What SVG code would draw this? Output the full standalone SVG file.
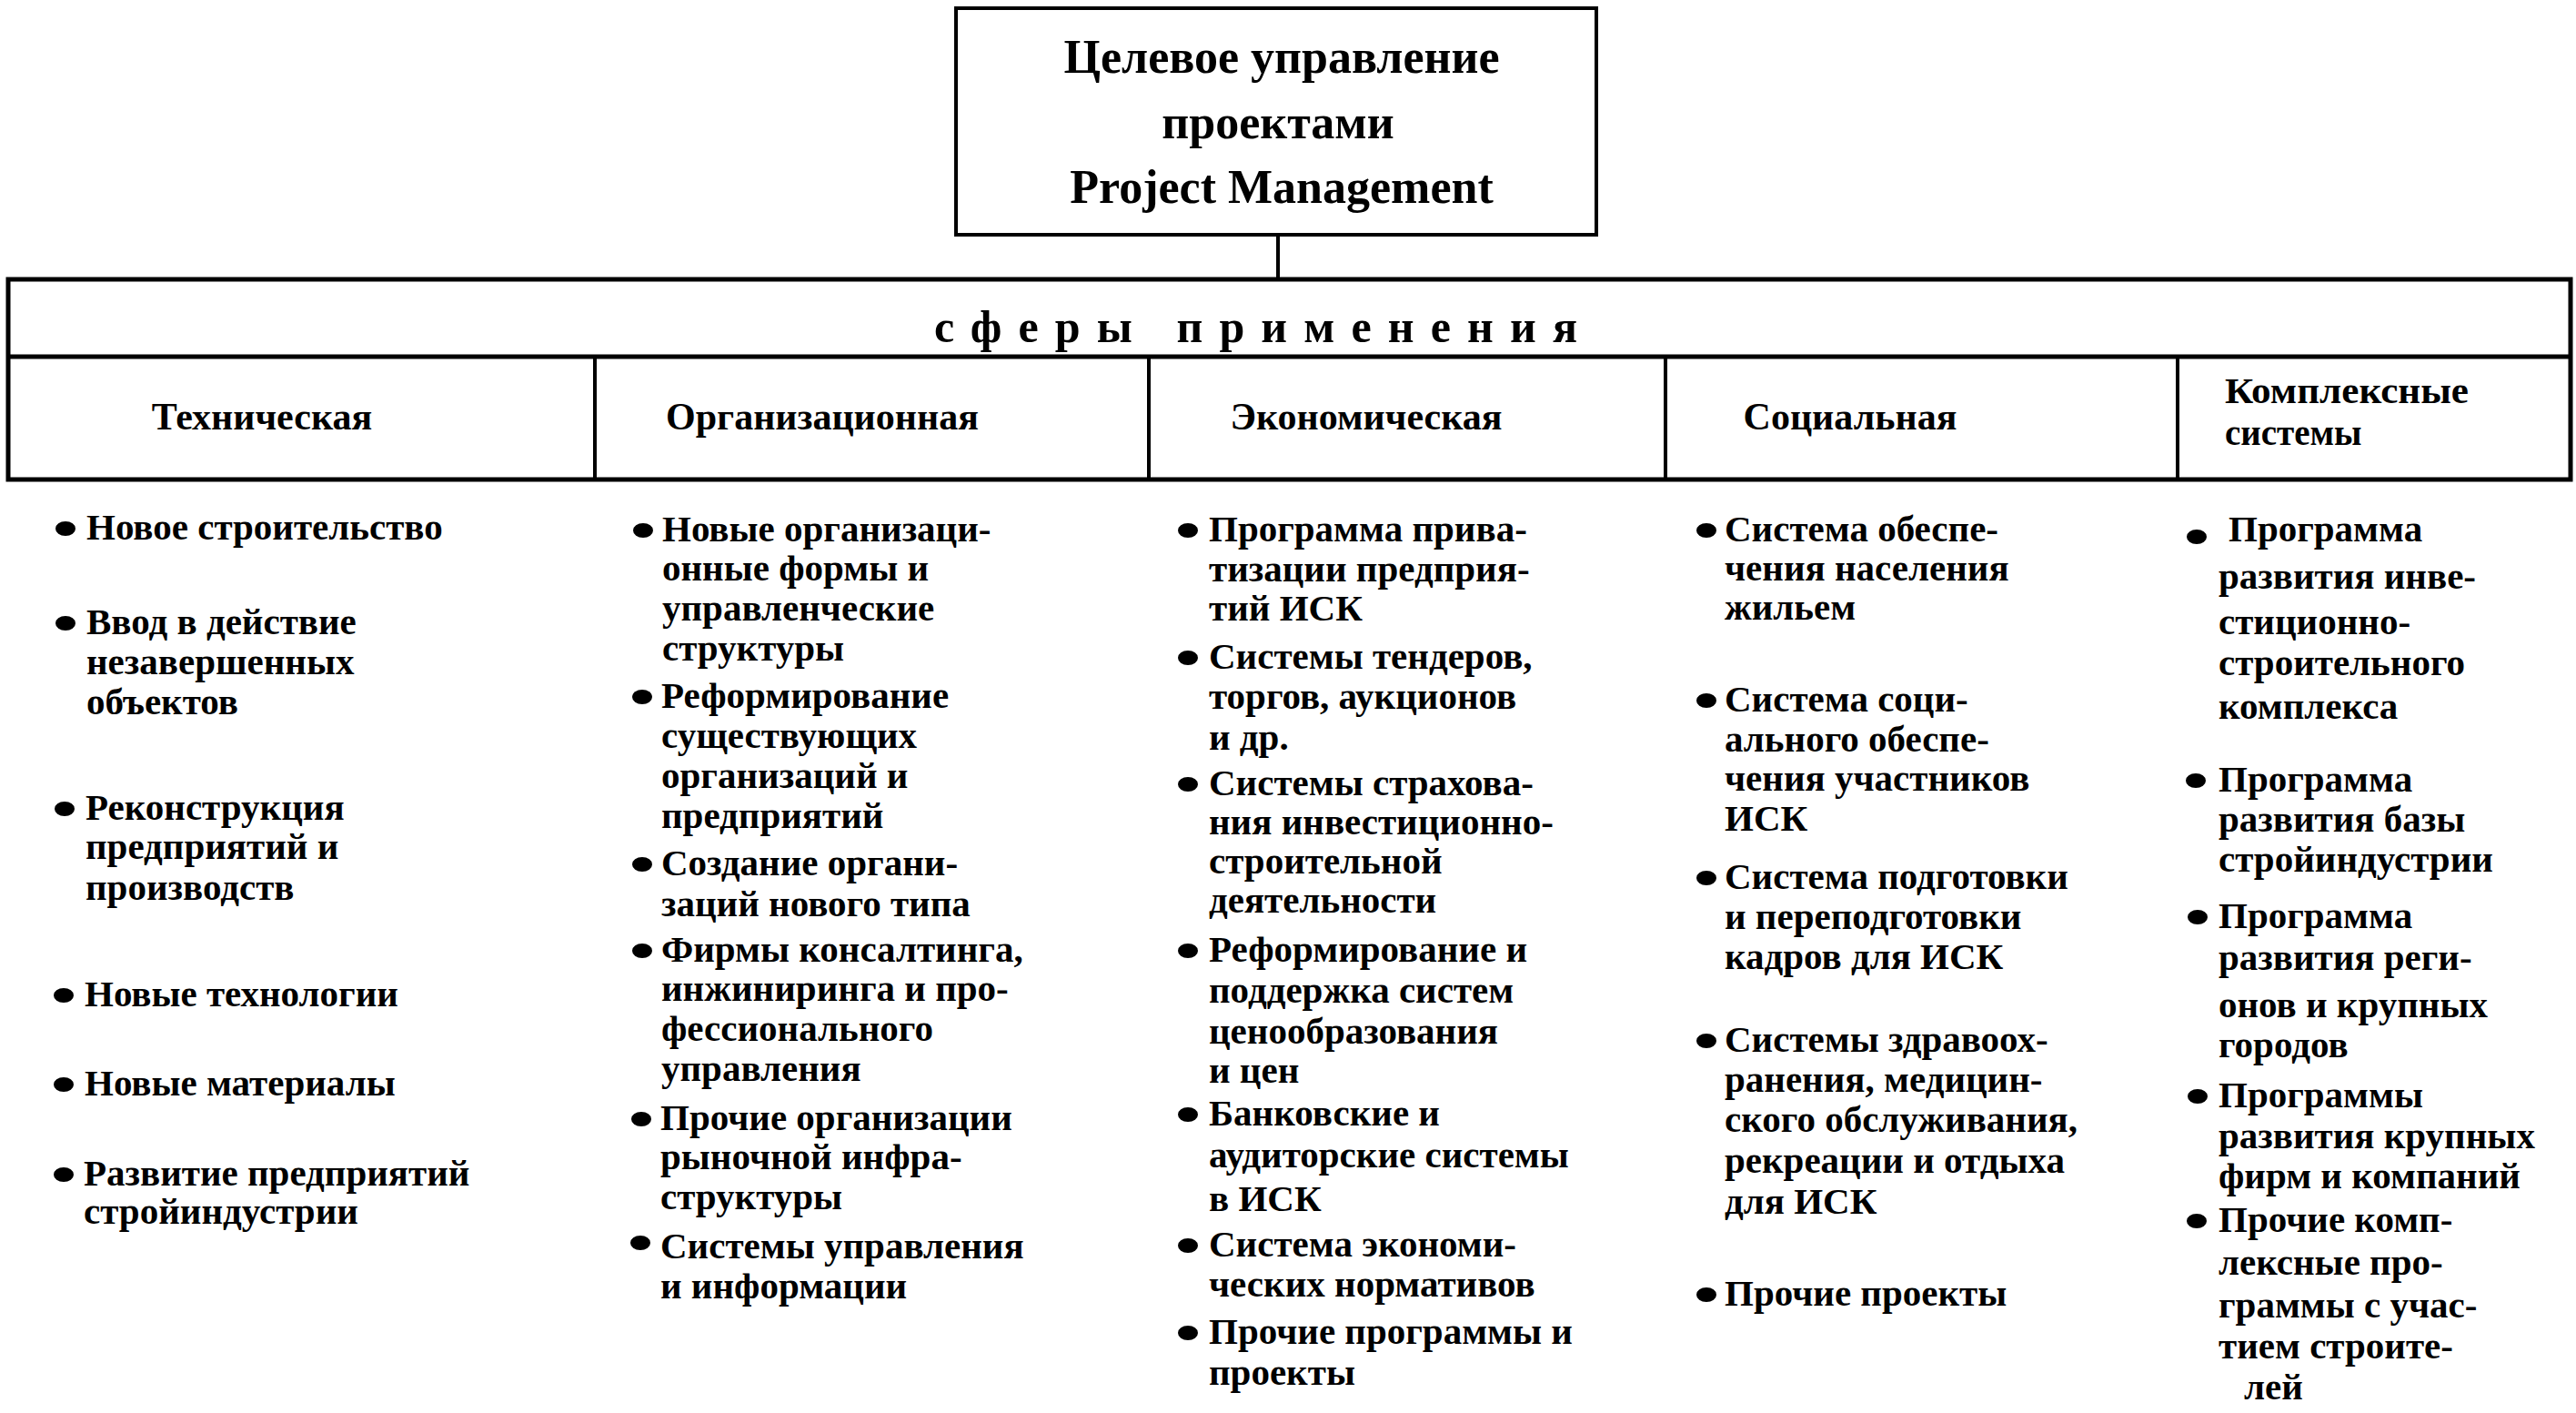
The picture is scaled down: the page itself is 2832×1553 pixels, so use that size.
<svg xmlns="http://www.w3.org/2000/svg" width="2832" height="1553" viewBox="0 0 2832 1553">
<style>
.ln{stroke:#000;fill:none}
.t{font-family:"Liberation Serif","Times New Roman",serif;font-weight:bold;fill:#000}
.ttl{font-size:52px;text-anchor:middle}
.band{font-size:50px}
.hd{font-size:42px}
.hd2{font-size:39px}
.b{font-size:41px}
.dot{fill:#000}
</style>
<rect width="2832" height="1553" fill="#fff"/>
<g id="connectors">
<line class="ln" x1="1405" y1="258" x2="1405" y2="307" stroke-width="4"/>
</g>
<g id="title">
<rect class="ln" x="1051" y="9" width="704" height="249" stroke-width="4"/>
<text class="t ttl" x="1409" y="80">Целевое управление</text>
<text class="t ttl" x="1405" y="152">проектами</text>
<text class="t ttl" x="1409" y="223">Project Management</text>
</g>
<g id="table">
<rect class="ln" x="9" y="307" width="2817" height="220" stroke-width="5"/>
<line class="ln" x1="9" y1="392" x2="2826" y2="392" stroke-width="5"/>
<line class="ln" x1="654" y1="392" x2="654" y2="527" stroke-width="4"/>
<line class="ln" x1="1263" y1="392" x2="1263" y2="527" stroke-width="4"/>
<line class="ln" x1="1831" y1="392" x2="1831" y2="527" stroke-width="4"/>
<line class="ln" x1="2394" y1="392" x2="2394" y2="527" stroke-width="4"/>
<text class="t band" x="1027" y="376" textLength="707" lengthAdjust="spacing">сферы применения</text>
</g>
<g id="h1"><text class="t hd" x="288" y="472" text-anchor="middle">Техническая</text></g>
<g id="h2"><text class="t hd" x="904" y="472" text-anchor="middle">Организационная</text></g>
<g id="h3"><text class="t hd" x="1502" y="472" text-anchor="middle">Экономическая</text></g>
<g id="h4"><text class="t hd" x="2034" y="472" text-anchor="middle">Социальная</text></g>
<g id="h5"><text class="t hd2" x="2446" y="443" textLength="268" lengthAdjust="spacingAndGlyphs">Комплексные</text><text class="t hd2" x="2446" y="489">системы</text></g>

<g id="col1">
<ellipse class="dot" cx="72" cy="581" rx="11" ry="8"/>
<text class="t b" x="95" y="593">Новое строительство</text>
<ellipse class="dot" cx="72" cy="685" rx="11" ry="8"/>
<text class="t b" x="95" y="697">Ввод в действие</text>
<text class="t b" x="95" y="741">незавершенных</text>
<text class="t b" x="95" y="785">объектов</text>
<ellipse class="dot" cx="71" cy="889" rx="11" ry="8"/>
<text class="t b" x="94" y="901">Реконструкция</text>
<text class="t b" x="94" y="944">предприятий и</text>
<text class="t b" x="94" y="989">производств</text>
<ellipse class="dot" cx="70" cy="1094" rx="11" ry="8"/>
<text class="t b" x="93" y="1106">Новые технологии</text>
<ellipse class="dot" cx="70" cy="1192" rx="11" ry="8"/>
<text class="t b" x="93" y="1204">Новые материалы</text>
<ellipse class="dot" cx="70" cy="1291" rx="11" ry="8"/>
<text class="t b" x="92" y="1303">Развитие предприятий</text>
<text class="t b" x="92" y="1345">стройиндустрии</text>
</g>

<g id="col2">
<ellipse class="dot" cx="707" cy="583" rx="11" ry="8"/>
<text class="t b" x="728" y="595">Новые организаци-</text>
<text class="t b" x="728" y="638">онные формы и</text>
<text class="t b" x="728" y="682">управленческие</text>
<text class="t b" x="728" y="726">структуры</text>
<ellipse class="dot" cx="706" cy="766" rx="11" ry="8"/>
<text class="t b" x="727" y="778">Реформирование</text>
<text class="t b" x="727" y="822">существующих</text>
<text class="t b" x="727" y="866">организаций и</text>
<text class="t b" x="727" y="910">предприятий</text>
<ellipse class="dot" cx="706" cy="950" rx="11" ry="8"/>
<text class="t b" x="727" y="962">Создание органи-</text>
<text class="t b" x="727" y="1007">заций нового типа</text>
<ellipse class="dot" cx="706" cy="1045" rx="11" ry="8"/>
<text class="t b" x="727" y="1057">Фирмы консалтинга,</text>
<text class="t b" x="727" y="1100">инжиниринга и про-</text>
<text class="t b" x="727" y="1144">фессионального</text>
<text class="t b" x="727" y="1188">управления</text>
<ellipse class="dot" cx="705" cy="1230" rx="11" ry="8"/>
<text class="t b" x="726" y="1242">Прочие организации</text>
<text class="t b" x="726" y="1285">рыночной инфра-</text>
<text class="t b" x="726" y="1329">структуры</text>
<ellipse class="dot" cx="704" cy="1366" rx="11" ry="8"/>
<text class="t b" x="726" y="1383">Системы управления</text>
<text class="t b" x="726" y="1427">и информации</text>
</g>

<g id="col3">
<ellipse class="dot" cx="1306" cy="583" rx="11" ry="8"/>
<text class="t b" x="1329" y="595">Программа прива-</text>
<text class="t b" x="1329" y="639">тизации предприя-</text>
<text class="t b" x="1329" y="682">тий ИСК</text>
<ellipse class="dot" cx="1306" cy="723" rx="11" ry="8"/>
<text class="t b" x="1329" y="735">Системы тендеров,</text>
<text class="t b" x="1329" y="779">торгов, аукционов</text>
<text class="t b" x="1329" y="824">и др.</text>
<ellipse class="dot" cx="1306" cy="862" rx="11" ry="8"/>
<text class="t b" x="1329" y="874">Системы страхова-</text>
<text class="t b" x="1329" y="917">ния инвестиционно-</text>
<text class="t b" x="1329" y="960">строительной</text>
<text class="t b" x="1329" y="1003">деятельности</text>
<ellipse class="dot" cx="1306" cy="1045" rx="11" ry="8"/>
<text class="t b" x="1329" y="1057">Реформирование и</text>
<text class="t b" x="1329" y="1102">поддержка систем</text>
<text class="t b" x="1329" y="1147">ценообразования</text>
<text class="t b" x="1329" y="1190">и цен</text>
<ellipse class="dot" cx="1306" cy="1225" rx="11" ry="8"/>
<text class="t b" x="1329" y="1237">Банковские и</text>
<text class="t b" x="1329" y="1283">аудиторские системы</text>
<text class="t b" x="1329" y="1331">в ИСК</text>
<ellipse class="dot" cx="1306" cy="1369" rx="11" ry="8"/>
<text class="t b" x="1329" y="1381">Система экономи-</text>
<text class="t b" x="1329" y="1425">ческих нормативов</text>
<ellipse class="dot" cx="1306" cy="1465" rx="11" ry="8"/>
<text class="t b" x="1329" y="1477">Прочие программы и</text>
<text class="t b" x="1329" y="1522">проекты</text>
</g>

<g id="col4">
<ellipse class="dot" cx="1876" cy="583" rx="11" ry="8"/>
<text class="t b" x="1896" y="595">Система обеспе-</text>
<text class="t b" x="1896" y="638">чения населения</text>
<text class="t b" x="1896" y="681">жильем</text>
<ellipse class="dot" cx="1876" cy="770" rx="11" ry="8"/>
<text class="t b" x="1896" y="782">Система соци-</text>
<text class="t b" x="1896" y="826">ального обеспе-</text>
<text class="t b" x="1896" y="869">чения участников</text>
<text class="t b" x="1896" y="913">ИСК</text>
<ellipse class="dot" cx="1876" cy="965" rx="11" ry="8"/>
<text class="t b" x="1896" y="977">Система подготовки</text>
<text class="t b" x="1896" y="1021">и переподготовки</text>
<text class="t b" x="1896" y="1065">кадров для ИСК</text>
<ellipse class="dot" cx="1876" cy="1144" rx="11" ry="8"/>
<text class="t b" x="1896" y="1156">Системы здравоох-</text>
<text class="t b" x="1896" y="1200">ранения, медицин-</text>
<text class="t b" x="1896" y="1244">ского обслуживания,</text>
<text class="t b" x="1896" y="1289">рекреации и отдыха</text>
<text class="t b" x="1896" y="1334">для ИСК</text>
<ellipse class="dot" cx="1876" cy="1423" rx="11" ry="8"/>
<text class="t b" x="1896" y="1435">Прочие проекты</text>
</g>

<g id="col5">
<ellipse class="dot" cx="2415" cy="590" rx="11" ry="8"/>
<text class="t b" x="2450" y="595">Программа</text>
<text class="t b" x="2439" y="647">развития инве-</text>
<text class="t b" x="2439" y="697">стиционно-</text>
<text class="t b" x="2439" y="742">строительного</text>
<text class="t b" x="2439" y="790">комплекса</text>
<ellipse class="dot" cx="2414" cy="858" rx="11" ry="8"/>
<text class="t b" x="2439" y="870">Программа</text>
<text class="t b" x="2439" y="914">развития базы</text>
<text class="t b" x="2439" y="958">стройиндустрии</text>
<ellipse class="dot" cx="2416" cy="1008" rx="11" ry="8"/>
<text class="t b" x="2439" y="1020">Программа</text>
<text class="t b" x="2439" y="1066">развития реги-</text>
<text class="t b" x="2439" y="1118">онов и крупных</text>
<text class="t b" x="2439" y="1162">городов</text>
<ellipse class="dot" cx="2416" cy="1205" rx="11" ry="8"/>
<text class="t b" x="2439" y="1217">Программы</text>
<text class="t b" x="2439" y="1262">развития крупных</text>
<text class="t b" x="2439" y="1306">фирм и компаний</text>
<ellipse class="dot" cx="2415" cy="1342" rx="11" ry="8"/>
<text class="t b" x="2439" y="1354">Прочие комп-</text>
<text class="t b" x="2439" y="1401">лексные про-</text>
<text class="t b" x="2439" y="1448">граммы с учас-</text>
<text class="t b" x="2439" y="1493">тием строите-</text>
<text class="t b" x="2467" y="1538">лей</text>
</g>
</svg>
